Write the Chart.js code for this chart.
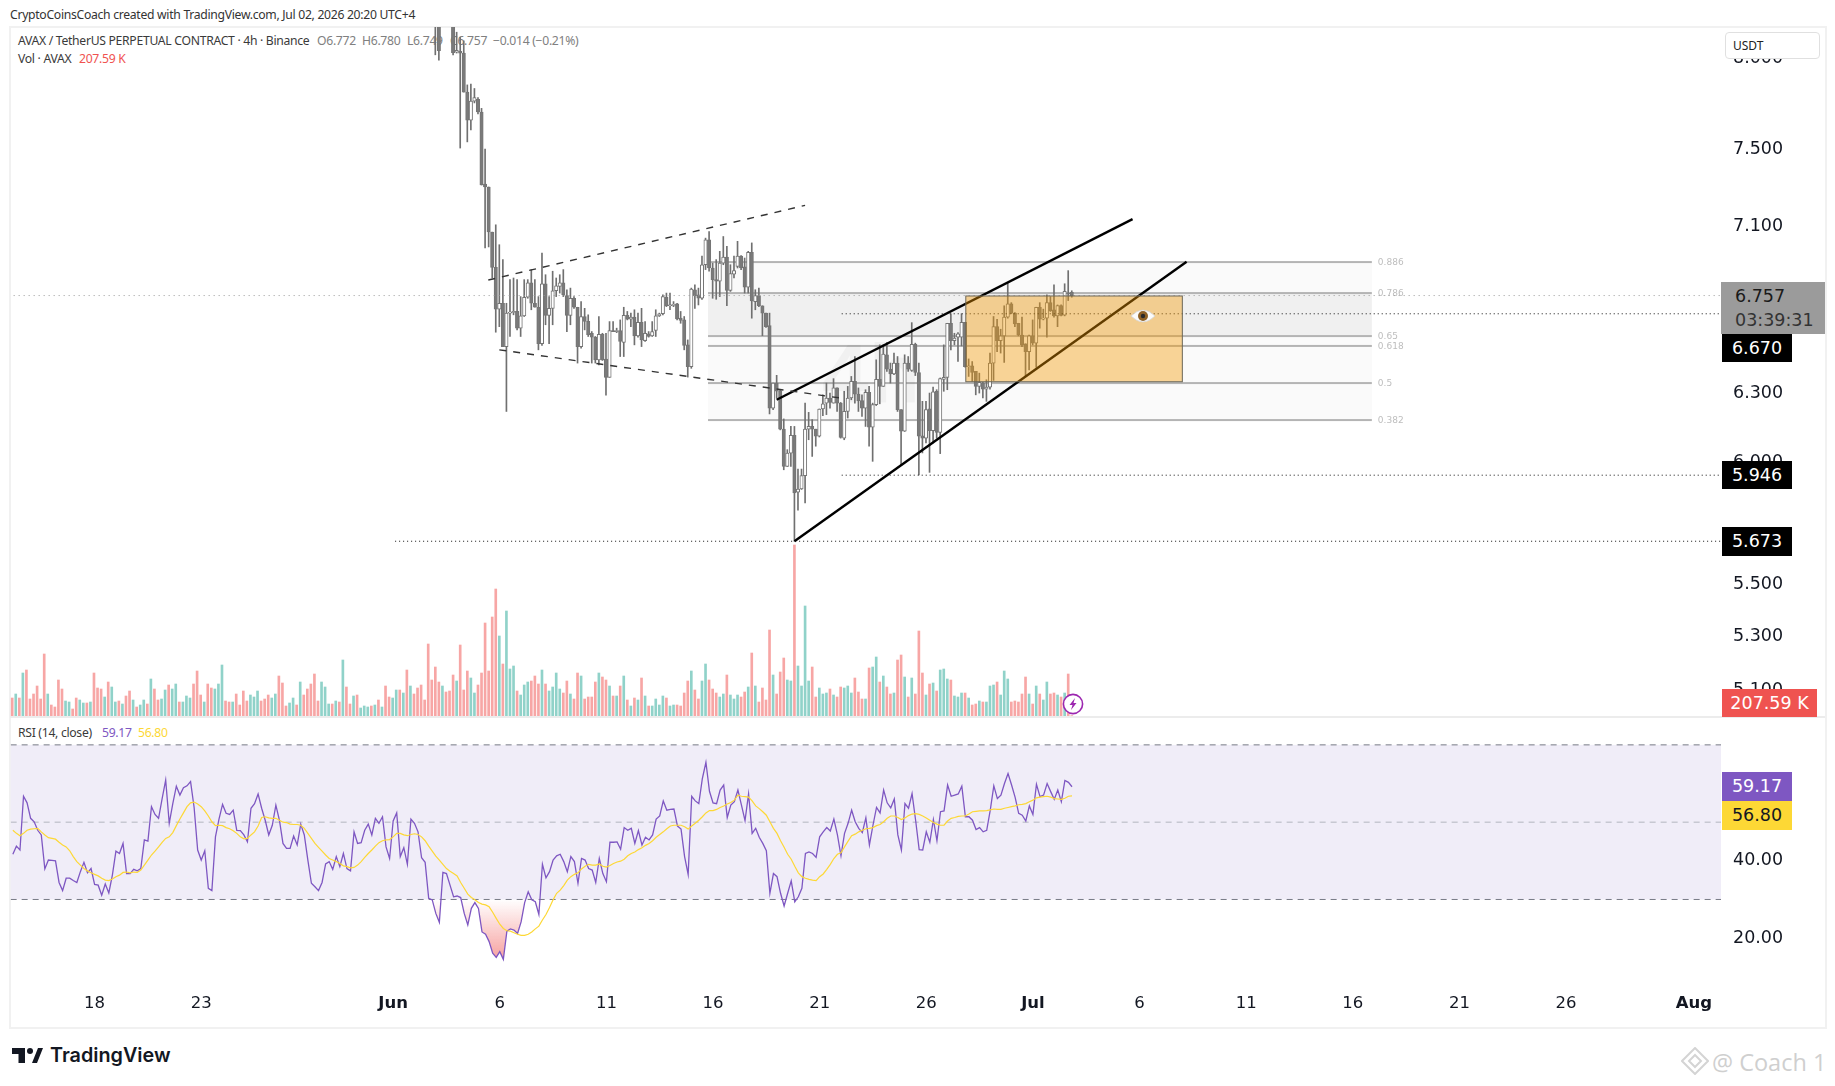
<!DOCTYPE html>
<html>
<head>
<meta charset="utf-8">
<title>AVAX / TetherUS 4h</title>
<script src="https://cdn.jsdelivr.net/npm/chart.js@4/dist/chart.umd.min.js"></script>
<style>
  html, body { margin: 0; background: #fff; overflow: hidden; }
  #page { position: relative; width: 1835px; height: 1086px; font-family: "Noto Sans", sans-serif; color: #131722; }
  #page div, #page span { position: absolute; white-space: nowrap; }
  canvas { position: absolute; }
  #frame { left: 9px; top: 26px; width: 1814px; height: 999px; border: 2px solid #f1f1f1; }
  #divider { left: 10px; top: 716px; width: 1815px; height: 2px; background: #ececec; }
  .leg { font-size: 12.2px; line-height: 16px; color: #3a3a3a; letter-spacing: -0.3px; }
  .tag { font: 17.5px "DejaVu Sans", sans-serif; text-align: center; z-index: 5; }
</style>
</head>
<body>
<div id="page">
  <div id="frame"></div>
  <div class="leg" style="left:10px;top:7px;color:#333">CryptoCoinsCoach created with TradingView.com, Jul 02, 2026 20:20 UTC+4</div>
  <div class="leg" style="left:18px;top:33px">AVAX / TetherUS PERPETUAL CONTRACT · 4h · Binance</div>
  <div class="leg" style="left:317px;top:33px;color:#808080">O6.772</div>
  <div class="leg" style="left:362px;top:33px;color:#808080">H6.780</div>
  <div class="leg" style="left:407px;top:33px;color:#808080">L6.749</div>
  <div class="leg" style="left:450px;top:33px;color:#808080">C6.757</div>
  <div class="leg" style="left:493px;top:33px;color:#808080">−0.014 (−0.21%)</div>
  <div class="leg" style="left:18px;top:51px">Vol · AVAX</div>
  <div class="leg" style="left:79px;top:51px;color:#f05350">207.59 K</div>
  <div class="leg" style="left:18px;top:725px">RSI (14, close)</div>
  <div class="leg" style="left:102px;top:725px;color:#7e57c2">59.17</div>
  <div class="leg" style="left:138px;top:725px;color:#fdd835">56.80</div>

  <canvas id="priceChart" width="1815" height="690" style="left:10px;top:27px"></canvas>
  <canvas id="rsiChart" width="1815" height="309" style="left:10px;top:717px"></canvas>
  <div id="divider"></div>

  <div style="left:1725px;top:32px;width:93px;height:25px;background:#fff;border:1px solid #e0e0e0;border-radius:4px;z-index:5"></div>
  <div style="left:1733px;top:37px;font-size:12px;color:#222;z-index:6">USDT</div>

  <div class="tag" style="left:1721px;top:282px;width:104px;height:52px;background:#9b9b9b"></div>
  <div class="tag" style="left:1735px;top:286px;color:#1a1a1a">6.757</div>
  <div class="tag" style="left:1735px;top:310px;color:#333">03:39:31</div>
  <div class="tag" style="left:1722px;top:334px;width:70px;height:28px;line-height:28px;background:#000;color:#fff;z-index:6">6.670</div>
  <div class="tag" style="left:1722px;top:461px;width:70px;height:28px;line-height:28px;background:#000;color:#fff">5.946</div>
  <div class="tag" style="left:1722px;top:527px;width:70px;height:29px;line-height:29px;background:#000;color:#fff">5.673</div>
  <div class="tag" style="left:1722px;top:689px;width:95px;height:28px;line-height:28px;background:#ef5350;color:#fff">207.59 K</div>
  <div class="tag" style="left:1722px;top:772px;width:70px;height:29px;line-height:29px;background:#7e57c2;color:#fff">59.17</div>
  <div class="tag" style="left:1722px;top:801px;width:70px;height:29px;line-height:29px;background:#fdd835;color:#131722">56.80</div>

  <svg style="position:absolute;left:1131px;top:308px;z-index:4" width="24" height="16" viewBox="0 0 24 16">
    <path d="M0 8 Q12 -4 24 8 Q12 20 0 8Z" fill="#fbfbfb" stroke="#cfcfcf" stroke-width="0.7"/>
    <circle cx="12" cy="8" r="5" fill="#8f6228"/><circle cx="12" cy="8" r="2.2" fill="#2a2a2a"/>
  </svg>
  <svg style="position:absolute;left:1062px;top:693px;z-index:4" width="22" height="22" viewBox="0 0 22 22">
    <circle cx="11" cy="11" r="9.6" fill="#fff" stroke="#9c27b0" stroke-width="1.6"/>
    <path d="M13 5 L7.5 12 H10.5 L9 17 L14.5 10 H11.5Z" fill="#9c27b0"/>
  </svg>

  <svg style="position:absolute;left:12px;top:1048px" width="31" height="15" viewBox="0 0 31 15">
    <path d="M0 0H13V15H6.5V6H0Z M20 15L26 0H31L25 15Z" fill="#131722"/><circle cx="18" cy="3" r="3" fill="#131722"/>
  </svg>
  <div style="left:50px;top:1043px;font:600 19.8px Inter, sans-serif;color:#131722">TradingView</div>

  <svg style="position:absolute;left:1681px;top:1047px" width="28" height="28" viewBox="0 0 28 28">
    <path d="M14 1 L27 14 L14 27 L1 14Z M14 8 L20 14 L14 20 L8 14Z" fill="none" stroke="#d4d4d4" stroke-width="2"/>
  </svg>
  <div style="left:1712px;top:1046px;font:23.5px 'Open Sans', sans-serif;color:#cfcfcf">@ Coach 1</div>
</div>

<script>
// bars are 4h, index 0 is the first bar on the left edge
const barCount = 299;
const firstCandle = 119;

const priceTicks = [8, 7.5, 7.1, 6.3, 6, 5.5, 5.3, 5.1];
const rsiTicks = [60, 40, 20];
const dateTicks = [23, 53, 107, 137, 167, 197, 227, 257, 287, 317, 347, 377, 407, 437, 473];
const dateLabels = ['18', '23', 'Jun', '6', '11', '16', '21', '26', 'Jul', '6', '11', '16', '21', '26', 'Aug'];

// candles from firstCandle onward; earlier ones are above the visible range
const opens = [8.40,8.35,8.30,8.50,8.45,8.30,8.035,8.04,8.03,7.81,7.656,7.76,7.77,7.70,7.315,7.30,7.069,6.894,6.692,6.72,6.516,
  6.673,6.676,6.681,6.602,6.66,6.749,6.818,6.72,6.701,6.529,6.814,6.662,6.696,6.78,6.801,6.818,6.757,6.662,6.744,6.701,
  6.516,6.657,6.634,6.578,6.56,6.455,6.573,6.458,6.375,6.591,6.586,6.591,6.535,6.662,6.644,6.654,6.566,6.63,6.544,6.575,
  6.566,6.591,6.66,6.67,6.749,6.709,6.71,6.717,6.649,6.641,6.524,6.424,6.785,6.761,6.744,6.907,7.031,6.891,6.834,6.826,
  6.915,6.945,6.782,6.861,6.899,6.949,6.896,6.798,6.968,6.728,6.757,6.708,6.673,6.614,6.237,6.349,6.315,6.144,5.983,6.04,
  6.117,5.875,5.888,5.944,6.144,6.156,6.144,6.113,6.233,6.259,6.282,6.259,6.327,6.259,6.105,6.222,6.282,6.357,6.299,6.27,
  6.237,6.307,6.153,6.252,6.366,6.334,6.478,6.412,6.391,6.44,6.23,6.135,6.44,6.406,6.527,6.397,6.115,6.105,6.234,6.137,
  6.312,6.13,6.366,6.375,6.625,6.544,6.56,6.56,6.63,6.424,6.427,6.402,6.334,6.349,6.322,6.331,6.44,6.609,6.544,6.566,
  6.654,6.717,6.673,6.625,6.57,6.529,6.493,6.566,6.532,6.701,6.644,6.649,6.723,6.689,6.66,6.709,6.663,6.769,6.772];
const highs = [8.45,8.40,8.50,8.55,8.50,8.35,8.15,8.12,8.10,7.85,7.855,7.83,7.78,7.72,7.50,7.30,7.069,7.106,7.006,6.932,
  6.72,6.834,6.842,6.834,6.752,6.834,6.834,6.883,6.834,6.752,6.965,6.858,6.752,6.875,6.842,6.858,6.883,6.785,6.793,6.752,
  6.701,6.728,6.696,6.665,6.586,6.563,6.657,6.578,6.578,6.633,6.633,6.602,6.641,6.701,6.681,6.673,6.689,6.673,6.696,6.633,
  6.586,6.633,6.689,6.673,6.76,6.769,6.769,6.728,6.72,6.681,6.657,6.547,6.793,6.809,6.793,6.949,7.039,7.072,6.915,6.932,
  6.973,7.047,6.998,6.907,6.949,7.023,6.952,6.94,6.973,7.015,6.785,6.793,6.708,6.673,6.673,6.349,6.384,6.319,6.189,6.055,
  6.156,6.156,5.972,5.972,6.259,6.218,6.186,6.144,6.233,6.296,6.349,6.304,6.369,6.327,6.262,6.312,6.334,6.379,6.47,6.327,
  6.296,6.319,6.334,6.259,6.455,6.524,6.524,6.535,6.44,6.486,6.47,6.23,6.478,6.47,6.628,6.532,6.44,6.267,6.267,6.304,
  6.331,6.319,6.372,6.524,6.625,6.67,6.578,6.581,6.67,6.63,6.459,6.447,6.402,6.394,6.352,6.364,6.486,6.657,6.644,6.597,
  6.708,6.818,6.723,6.676,6.625,6.654,6.529,6.57,6.641,6.701,6.723,6.692,6.761,6.752,6.809,6.712,6.712,6.814,6.878,6.78];
const lows = [8.02,7.99,8.25,8.28,8.25,8.02,8.03,7.505,7.81,7.538,7.602,7.75,7.69,7.31,6.99,6.995,6.842,6.583,6.609,6.516,
  6.222,6.563,6.665,6.594,6.563,6.657,6.744,6.689,6.701,6.501,6.521,6.618,6.529,6.618,6.752,6.769,6.752,6.586,6.618,6.696,
  6.44,6.509,6.594,6.563,6.44,6.44,6.432,6.452,6.294,6.375,6.586,6.581,6.47,6.47,6.641,6.609,6.524,6.56,6.516,6.54,
  6.56,6.563,6.563,6.657,6.665,6.704,6.689,6.704,6.641,6.625,6.501,6.376,6.416,6.696,6.712,6.739,6.883,6.875,6.744,6.739,
  6.752,6.907,6.708,6.777,6.842,6.891,6.883,6.769,6.769,6.649,6.689,6.704,6.567,6.606,6.211,6.23,6.282,6.141,5.969,5.983,
  5.983,5.673,5.8,5.886,5.83,6.098,6.026,6.07,6.11,6.203,6.208,6.237,6.259,6.222,6.105,6.098,6.193,6.274,6.259,6.222,
  6.2,6.156,6.07,6.005,6.248,6.256,6.334,6.402,6.349,6.387,6.222,5.99,6.134,6.402,6.402,6.383,5.947,6.041,6.084,5.958,
  6.084,6.105,6.038,6.312,6.319,6.501,6.524,6.447,6.519,6.421,6.379,6.357,6.296,6.304,6.282,6.267,6.322,6.361,6.493,6.486,
  6.443,6.649,6.67,6.609,6.566,6.516,6.382,6.409,6.524,6.421,6.602,6.641,6.56,6.681,6.654,6.609,6.66,6.66,6.733,6.749];
const closes = [8.25,8.043,8.45,8.35,8.30,8.032,8.045,8.03,7.81,7.656,7.76,7.78,7.70,7.31,7.30,7.07,6.894,6.692,6.72,6.516,6.673,
  6.678,6.681,6.602,6.66,6.749,6.818,6.72,6.701,6.529,6.814,6.662,6.696,6.78,6.804,6.818,6.761,6.662,6.744,6.701,6.516,
  6.657,6.634,6.571,6.56,6.455,6.573,6.455,6.375,6.591,6.586,6.591,6.54,6.662,6.644,6.654,6.566,6.63,6.547,6.578,6.563,
  6.586,6.66,6.67,6.752,6.708,6.712,6.715,6.646,6.638,6.521,6.424,6.788,6.755,6.744,6.907,7.031,6.891,6.834,6.826,6.915,
  6.945,6.782,6.863,6.878,6.949,6.891,6.798,6.968,6.731,6.757,6.708,6.673,6.609,6.237,6.349,6.312,6.144,5.983,6.04,6.117,
  5.872,5.888,5.944,6.144,6.156,6.144,6.113,6.233,6.256,6.282,6.262,6.327,6.259,6.108,6.222,6.282,6.357,6.299,6.27,6.237,
  6.307,6.153,6.252,6.366,6.334,6.481,6.412,6.391,6.44,6.23,6.135,6.44,6.412,6.527,6.397,6.113,6.105,6.23,6.137,6.309,
  6.13,6.369,6.375,6.625,6.544,6.556,6.575,6.63,6.424,6.427,6.397,6.334,6.352,6.322,6.331,6.44,6.609,6.544,6.566,6.654,
  6.717,6.673,6.622,6.57,6.524,6.493,6.566,6.532,6.701,6.644,6.65,6.723,6.685,6.66,6.709,6.662,6.777,6.765,6.757];

// volume in thousands, r = down bar, t = up bar
const volumes = [2850,3450,2850,6600,7050,2700,3450,4650,2700,9450,
  3450,1800,1500,5550,4200,2400,2250,1200,2850,2550,
  2100,2100,2250,6600,4350,4200,3000,5250,4500,2250,
  2400,1950,3150,3900,2550,1500,1800,2550,1950,5700,
  4200,2550,2700,4050,4800,4200,4950,2250,2250,3150,
  2850,4950,6900,3300,2250,4950,4350,4200,4950,7800,
  2400,2250,2250,3450,1800,3900,2400,3300,3000,3900,
  2400,2700,3300,2850,3450,6150,5100,1650,2100,2850,
  1800,5250,3300,4200,4950,6450,2400,5250,4500,1950,
  1950,2400,2250,8550,4500,1950,3150,3300,1350,1650,
  1500,1650,1800,2550,1500,4650,3000,2850,4050,4050,
  3600,7050,4650,3450,4350,4800,2550,10950,5550,7500,
  5250,4650,3750,3900,6300,5400,10800,4050,6900,5850,
  3600,4800,6600,14100,6900,15000,19200,12150,7950,15900,
  7200,7650,3900,3300,4800,5250,5400,6150,4950,7050,
  4950,3900,4500,6600,4200,3600,5400,3450,2700,6600,
  6150,2700,3000,3000,5250,6600,6000,5550,4650,3150,
  3150,4650,6150,2550,1650,2850,2550,5850,3150,1650,
  1650,2700,1800,3150,2850,1650,1800,1800,1650,3600,
  5400,6900,4050,2700,5400,7950,5550,4200,3600,3000,
  3450,6300,3300,2700,3300,3000,3750,4500,9600,4650,
  2250,4350,2550,13050,6300,3450,6750,8850,5550,5400,
  25800,7650,4650,16650,5400,7500,3000,4350,3450,3600,
  4200,3300,3000,4500,4350,4650,3600,5850,3750,2700,
  2700,7350,7500,9000,5250,6150,4500,3450,3600,8550,
  9300,6000,3000,5850,3450,12900,6600,3300,4950,5100,
  3900,7050,7200,5700,5550,3150,3000,3600,3600,2850,
  1800,1950,2400,2250,2250,4650,4800,5250,3300,6900,
  5700,2250,2400,2250,3450,6000,3450,1950,4650,3450,
  2550,5250,3450,3600,3300,3000,3600,6450,207.59];
const volumeSide = ('rtrtrrrrrr' + 'trrrrttrrt' + 'trtrrrtrtt' + 'rtrrtrttrt' + 'rrttrttrtt' + 'trrrtrrttt' + 'rrtrrrrttt' + 'rrrttrrrtt' +
  'rtrrrrrttt' + 'rtrtrrtrtt' + 'trtrtrrttr' + 'trtrrrrrrr' + 'rtrrrtrrrt' + 'trrrrrrtrt' + 'ttrtttrrrt' + 'rttttrrtrr' +
  'trrrrtrrtr' + 'trtrtrtrtr' + 'ttttrttrrr' + 'rtrrttrrrt' + 'trtttrrtrt' + 'rrrrtrrrtt' + 'rttttrrttt' + 'rtrrtttrrr' +
  'trttrtrrtr' + 'rtrtrrrtrt' + 'rtttrtttrt' + 'rrtrtttrtt' + 'trrrrrtrtr' + 'ttrrtrtrr').split('');

const rsiValues = [41.7,43.8,42.8,56.7,55.0,51.0,50.1,47.9,46.7,37.9,40.2,40.1,40.0,34.4,32.3,35.5,35.5,34.9,34.4,37.2,
  39.6,36.9,38.0,33.9,33.7,31.1,34.0,31.7,36.3,42.5,41.9,44.5,36.7,36.7,37.8,37.4,38.0,45.4,45.1,54.0,
  52.0,51.0,56.1,60.9,49.7,54.8,59.3,57.0,58.9,59.4,60.5,53.8,42.8,40.2,42.6,32.9,32.3,46.2,50.8,54.6,
  52.3,52.0,53.1,47.9,47.8,46.7,44.9,53.6,54.8,57.3,53.6,50.5,46.7,49.2,54.4,50.5,44.5,43.2,43.2,46.4,
  44.1,49.5,46.7,40.2,34.2,33.3,32.3,34.4,39.2,39.8,37.8,41.1,38.5,41.9,38.0,37.4,47.5,44.5,44.7,47.9,
  49.5,46.7,51.0,49.7,51.4,43.6,40.6,50.3,52.4,41.1,43.4,39.1,50.8,49.7,47.5,40.8,39.6,30.3,29.9,26.4,
  24.1,37.0,36.7,33.7,30.7,30.9,30.5,26.4,23.4,27.7,29.2,27.7,21.6,21.0,19.1,16.1,15.0,16.5,14.5,21.8,
  22.4,22.1,21.2,24.2,29.2,32.0,29.9,29.4,26.1,39.1,35.6,37.2,40.2,41.3,41.7,39.8,37.2,41.1,39.8,34.2,
  40.6,40.2,38.0,37.6,34.4,40.6,36.7,34.6,44.8,44.8,44.9,43.0,48.6,47.9,48.4,44.5,47.8,44.1,46.1,45.4,
  46.7,50.8,51.6,55.5,53.1,53.3,53.4,49.0,48.2,41.1,36.5,56.7,55.5,54.8,61.3,65.5,58.0,55.0,54.8,58.3,
  59.6,51.2,54.4,55.3,58.3,54.4,50.4,57.3,47.1,48.4,46.1,44.5,42.6,31.6,36.7,35.9,31.6,28.3,31.6,34.8,
  29.4,30.7,32.9,41.9,42.3,41.9,40.9,46.2,47.5,48.6,47.7,50.8,46.7,41.3,47.1,49.7,53.1,50.1,48.4,47.3,
  51.1,44.1,49.2,53.8,52.4,58.3,55.0,53.7,56.0,46.7,42.8,54.8,53.6,57.4,50.5,42.9,42.8,47.5,44.8,50.7,
  45.2,52.7,52.9,59.6,56.7,57.0,57.3,59.3,51.4,51.4,50.5,48.1,48.6,47.5,47.9,53.1,59.4,56.1,57.0,60.0,
  62.6,59.6,56.4,52.3,51.8,50.3,54.2,52.0,59.8,56.6,57.0,60.0,57.9,55.9,58.3,55.3,60.8,60.3,59.17];
const rsiAverage = [47.9,47.1,46.5,47.1,47.9,48.2,48.3,48.4,47.5,46.7,46.0,45.8,45.6,44.8,44.1,43.6,42.6,41.1,39.8,38.9,
  38.0,37.4,36.9,36.5,36.1,35.5,35.0,34.9,35.3,35.9,36.3,37.0,37.1,36.9,37.1,37.0,37.6,38.9,40.2,41.5,
  42.5,43.6,44.8,45.8,46.2,47.3,49.1,50.8,52.4,54.0,55.0,55.2,54.7,54.0,52.9,51.6,50.1,49.1,49.2,49.1,
  48.6,48.3,47.8,47.1,46.2,45.7,45.8,46.7,47.5,49.0,51.2,51.4,51.1,51.0,51.0,50.5,50.0,49.9,49.5,49.4,
  49.4,49.2,48.4,47.1,45.8,44.5,43.5,42.5,41.5,40.6,40.2,39.8,39.3,38.7,38.5,38.2,38.3,38.9,39.8,40.9,
  41.9,42.8,43.8,44.7,45.2,45.4,45.5,46.2,47.1,47.1,46.7,46.5,46.8,47.0,46.8,46.2,45.2,43.8,42.5,41.2,
  40.2,39.1,38.0,37.3,36.7,36.1,34.4,32.9,31.4,30.5,29.9,29.2,28.8,28.6,28.1,26.7,25.1,23.6,22.5,21.9,
  21.8,21.4,21.0,20.7,20.7,21.0,21.6,22.4,23.1,24.7,26.1,27.9,29.9,31.6,32.4,33.6,35.0,35.9,36.5,36.9,
  37.9,38.6,39.1,38.9,38.9,39.2,38.6,38.4,38.8,39.3,39.7,39.9,40.4,41.3,41.9,42.3,42.9,43.4,44.0,44.5,
  45.2,46.1,46.8,47.5,48.3,49.0,49.2,49.2,49.2,48.8,48.2,49.0,49.7,50.5,51.4,52.4,53.0,53.0,53.3,53.8,
  54.2,54.7,55.1,55.7,57.0,56.7,56.6,56.5,55.5,54.2,53.5,52.7,51.8,50.1,48.4,47.1,45.2,43.5,41.7,40.4,
  38.6,36.9,35.9,35.5,35.2,35.0,34.9,35.9,36.6,37.8,39.1,40.6,41.7,42.1,43.6,45.1,46.5,46.9,47.5,47.9,
  48.3,48.4,48.6,49.1,49.4,50.1,51.0,51.6,51.6,51.2,50.7,51.1,51.7,52.1,52.2,52.0,51.6,51.1,50.5,49.9,
  49.5,49.2,49.2,50.3,51.0,51.2,51.5,51.6,51.6,52.1,52.7,52.8,52.9,52.9,53.0,53.2,53.4,53.3,53.3,53.6,
  53.8,54.0,54.2,54.5,54.6,54.8,55.3,55.7,56.3,56.5,56.6,56.7,56.5,56.1,56.0,55.9,56.2,56.7,56.80];

// drawings on the price pane, as [bar, price]
const wedgeUpper = [[215, 6.274], [315.1, 7.135]];
const wedgeLower = [[220, 5.673], [330.3, 6.922]];
const channelUpper = [[133.9, 6.832], [223, 7.205]];
const channelLower = [[137, 6.501], [233.3, 6.281]];
const levelCurrent = [[-1, 6.757], [481, 6.757]];
const level670 = [[233.3, 6.670], [481, 6.670]];
const level5946 = [[233.3, 5.946], [481, 5.946]];
const level5673 = [[107.7, 5.673], [481, 5.673]];
const fibRatios = ['0.886', '0.786', '0.65', '0.618', '0.5', '0.382'];
const fibPrices = [6.920, 6.769, 6.565, 6.519, 6.349, 6.184];
const fibSpan = [195.7, 382.4];
const boxSpan = [268.2, 329.1];
const boxPrices = [6.755, 6.355];

// pane ranges
const xRange = [-0.62, 480.6];
const priceRange = [5.0059, 8.1803];
const volumeMax = 103500;
const rsiRange = [10.46, 77.04];

const indices = Array.from({ length: barCount }, (_, i) => i);
const candleIdx = opens.map((_, i) => firstCandle + i);
const lineSet = (data, color, width, dash) => ({
  type: 'line', data: data.map(p => ({ x: p[0], y: p[1] })), borderColor: color, borderWidth: width,
  borderDash: dash || [], pointRadius: 0, fill: false, tension: 0, order: 0, yAxisID: 'y'
});
// tick padding would otherwise eat into the plot height
const fitAxis = (size) => (s) => {
  if (s.isHorizontal()) s.height = size; else s.width = size;
  s.paddingTop = s.paddingBottom = s.paddingLeft = s.paddingRight = 0;
};

const priceAxes = {
  x: { type: 'linear', min: xRange[0], max: xRange[1], offset: false, display: false, grid: { display: false } },
  y: {
    type: 'logarithmic', position: 'right', min: priceRange[0], max: priceRange[1], bounds: 'data',
    grid: { display: false, drawTicks: false }, border: { display: false },
    afterFit: fitAxis(104),
    afterBuildTicks: s => { s.ticks = priceTicks.map(v => ({ value: v })); },
    ticks: { padding: 12, autoSkip: false, color: '#131722', font: { family: 'DejaVu Sans', size: 17.5 }, callback: v => Number(v).toFixed(3) }
  },
  yVol: { type: 'linear', min: 0, max: volumeMax, display: false, grid: { display: false } }
};

// fib bands go under the marks, the orange box goes over them
const drawings = {
  id: 'drawings',
  beforeDatasetsDraw(chart) {
    const { ctx, scales: { x, y } } = chart;
    const left = x.getPixelForValue(fibSpan[0]), right = x.getPixelForValue(fibSpan[1]);
    const yAt = fibPrices.map(p => y.getPixelForValue(p));
    ctx.save();
    const bandFills = ['#fafafa', '#f0f0f0', '#fafafa', '#fafafa', '#fafafa'];
    bandFills.forEach((c, i) => {
      ctx.fillStyle = c;
      ctx.fillRect(left, yAt[i], right - left, yAt[i + 1] - yAt[i]);
    });
    ctx.fillStyle = '#b4b4b4';
    yAt.forEach(v => ctx.fillRect(left, v - 1, right - left, 2));
    ctx.font = 'bold 84px "Liberation Sans"';
    ctx.fillStyle = 'rgba(0,0,0,0.035)';
    ctx.textBaseline = 'alphabetic';
    ctx.fillText('4h', 812, 376);
    ctx.font = '9px "DejaVu Sans"';
    ctx.fillStyle = '#bdbdbd';
    ctx.textBaseline = 'middle';
    fibRatios.forEach((t, i) => ctx.fillText(t, right + 6, yAt[i] + 1));
    ctx.restore();
  },
  afterDatasetsDraw(chart) {
    const { ctx, scales: { x, y } } = chart;
    const l = x.getPixelForValue(boxSpan[0]), r = x.getPixelForValue(boxSpan[1]);
    const t = y.getPixelForValue(boxPrices[0]), b = y.getPixelForValue(boxPrices[1]);
    ctx.save();
    ctx.fillStyle = 'rgba(245,152,0,0.4)';
    ctx.fillRect(l, t, r - l, b - t);
    ctx.strokeStyle = '#6b6658';
    ctx.lineWidth = 1;
    ctx.strokeRect(l, t, r - l, b - t);
    ctx.restore();
  }
};

new Chart(document.getElementById('priceChart'), {
  data: {
    datasets: [
      {
        type: 'bar', yAxisID: 'yVol', order: 3, barThickness: 2, grouped: false,
        data: indices.map(i => ({ x: i, y: volumes[i] })),
        backgroundColor: volumeSide.map(s => s === 'r' ? '#f7a6a5' : '#90d2c9')
      },
      {
        type: 'bar', yAxisID: 'y', order: 2, barThickness: 1, grouped: false,
        data: candleIdx.map((x, i) => ({ x: x, y: [lows[i], highs[i]] })), backgroundColor: '#707070'
      },
      {
        type: 'bar', yAxisID: 'y', order: 1, barThickness: 3.4, grouped: false, borderSkipped: false, borderWidth: 1,
        data: candleIdx.map((x, i) => ({ x: x, y: [opens[i], closes[i]] })), borderColor: '#757575',
        backgroundColor: opens.map((o, i) => closes[i] >= o ? '#ffffff' : '#7a7a7a')
      },
      lineSet(levelCurrent, '#9a9a9a', 1, [1, 4]),
      lineSet(level670, '#111', 1, [1, 3]),
      lineSet(level5946, '#111', 1, [1, 3]),
      lineSet(level5673, '#111', 1, [1, 3]),
      lineSet(channelUpper, '#333', 1.4, [7, 7]),
      lineSet(channelLower, '#333', 1.4, [7, 7]),
      lineSet(wedgeUpper, '#000', 2.4),
      lineSet(wedgeLower, '#000', 2.4)
    ]
  },
  options: {
    responsive: false, animation: false, events: [],
    layout: { padding: 0 },
    plugins: { legend: { display: false }, tooltip: { enabled: false } },
    scales: priceAxes
  },
  plugins: [drawings]
});

const rsiBand = {
  id: 'rsiBand',
  beforeDatasetsDraw(chart) {
    const { ctx, chartArea, scales: { yRsi } } = chart;
    const top = yRsi.getPixelForValue(70), bottom = yRsi.getPixelForValue(30);
    ctx.save();
    ctx.fillStyle = '#f0edf8';
    ctx.fillRect(chartArea.left, top, chartArea.right - chartArea.left, bottom - top);
    ctx.restore();
  }
};

const rsiGuide = (v, color) => ({
  type: 'line', data: [{ x: xRange[0], y: v }, { x: xRange[1], y: v }], borderColor: color, borderWidth: 1,
  borderDash: [6, 5], pointRadius: 0, fill: false, yAxisID: 'yRsi', order: 3
});

const rsiChart = new Chart(document.getElementById('rsiChart'), {
  type: 'line',
  data: {
    datasets: [
      {
        data: indices.map(i => ({ x: i, y: rsiValues[i] })), borderColor: '#7e57c2', borderWidth: 1.3, pointRadius: 0,
        tension: 0, yAxisID: 'yRsi', order: 2, fill: { target: { value: 30 }, above: 'rgba(0,0,0,0)', below: 'rgba(239,83,80,0.3)' }
      },
      {
        data: indices.map(i => ({ x: i, y: rsiAverage[i] })), borderColor: '#fdd835', borderWidth: 1.2, pointRadius: 0,
        tension: 0, yAxisID: 'yRsi', order: 1, fill: false
      },
      rsiGuide(70, '#787b86'),
      rsiGuide(50, '#b2b5be'),
      rsiGuide(30, '#787b86')
    ]
  },
  options: {
    responsive: false, animation: false, events: [],
    layout: { padding: 0 },
    plugins: { legend: { display: false }, tooltip: { enabled: false } },
    scales: {
      x: {
        type: 'linear', min: xRange[0], max: xRange[1], offset: false, bounds: 'data',
        grid: { display: false, drawTicks: false }, border: { display: false },
        afterFit: fitAxis(51),
        afterBuildTicks: s => { s.ticks = dateTicks.map(v => ({ value: v })); },
        ticks: {
          padding: 19, autoSkip: false, maxRotation: 0, color: '#131722',
          font: ctx => ({ family: 'DejaVu Sans', size: 16.5, weight: isNaN(dateLabels[ctx.index]) ? '600' : 'normal' }),
          callback: (v, i) => dateLabels[i]
        }
      },
      yRsi: {
        type: 'linear', position: 'right', min: rsiRange[0], max: rsiRange[1], bounds: 'data',
        grid: { display: false, drawTicks: false }, border: { display: false },
        afterFit: fitAxis(104),
        afterBuildTicks: s => { s.ticks = rsiTicks.map(v => ({ value: v })); },
        ticks: { padding: 12, autoSkip: false, color: '#131722', font: { family: 'DejaVu Sans', size: 17.5 }, callback: v => Number(v).toFixed(2) }
      }
    }
  },
  plugins: [rsiBand]
});

// the oversold area fades in from the 30 line down to the lowest reading
const yRsi = rsiChart.scales.yRsi;
const fade = rsiChart.ctx.createLinearGradient(0, yRsi.getPixelForValue(30), 0, yRsi.getPixelForValue(Math.min(...rsiValues)));
fade.addColorStop(0, 'rgba(239,83,80,0)');
fade.addColorStop(1, 'rgba(239,83,80,0.55)');
rsiChart.data.datasets[0].fill.below = fade;
rsiChart.update('none');
</script>
</body>
</html>
